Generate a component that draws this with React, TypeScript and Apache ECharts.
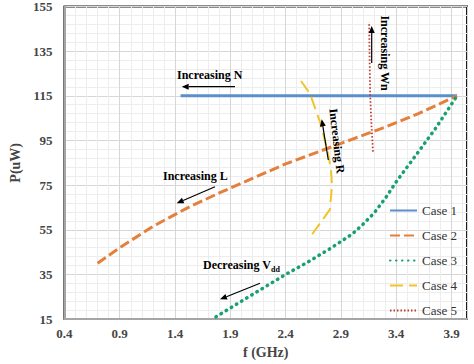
import React, { useEffect, useRef } from "react";
import * as echarts from "echarts";

const FONT = "Liberation Serif, Times New Roman, serif";

const seriesNames = ["Case 1", "Case 2", "Case 3", "Case 4", "Case 5"];

const case1X = [1.45, 3.95];
const case1Y = [115, 115];

const case2X = [0.7, 0.9, 1.2, 1.5, 1.8, 2.1, 2.4, 2.7, 3.0, 3.3, 3.6, 3.95];
const case2Y = [40, 47, 56.5, 64.5, 71.5, 78, 84.5, 90, 95.5, 101, 107, 115];

const case3X = [1.77, 2.0, 2.2, 2.4, 2.6, 2.8, 3.0, 3.1, 3.2, 3.3, 3.4, 3.55, 3.75, 3.95];
const case3Y = [16, 23, 29, 35, 40.5, 46.5, 53, 57.5, 62.5, 69, 76.5, 86.5, 100, 115];

const case4X = [2.64, 2.8, 2.82, 2.81, 2.78, 2.72, 2.62, 2.52];
const case4Y = [53, 64, 75, 82, 90, 102, 116, 123];

const case5X = [3.19, 3.175, 3.165, 3.16, 3.155];
const case5Y = [90, 103, 115, 130, 148];

const xTicks = { min: 0.4, max: 4.04, interval: 0.5 };
const yTicks = { min: 15, max: 155, interval: 20 };

const zip = (xs: number[], ys: number[]) => xs.map((x, i) => [x, ys[i]]);

function arrow(x1: number, y1: number, x2: number, y2: number) {
  const ang = Math.atan2(y2 - y1, x2 - x1);
  const len = 7;
  const w = 3;
  const bx = x2 - len * Math.cos(ang);
  const by = y2 - len * Math.sin(ang);
  const px = -Math.sin(ang) * w;
  const py = Math.cos(ang) * w;
  return [
    {
      type: "line",
      shape: { x1, y1, x2: bx, y2: by },
      style: { stroke: "#000", lineWidth: 1.2 },
      z: 100,
    },
    {
      type: "polygon",
      shape: { points: [[x2, y2], [bx + px, by + py], [bx - px, by - py]] },
      style: { fill: "#000" },
      z: 100,
    },
  ];
}

function label(text: string, x: number, y: number, extra: any = {}) {
  return {
    type: "text",
    x,
    y,
    z: 100,
    rotation: extra.rotation || 0,
    style: {
      text,
      fontFamily: FONT,
      fontWeight: "bold",
      fontSize: extra.size || 12,
      fill: "#000",
      align: extra.align || "left",
      verticalAlign: "middle",
    },
  };
}

export default function App() {
  const ref = useRef<HTMLDivElement>(null);
  useEffect(() => {
    if (!ref.current) return;
    const chart = echarts.init(ref.current, undefined, { renderer: "svg" });
    const axisLabel = { fontFamily: FONT, fontSize: 13, fontWeight: "bold", color: "#454545" };
    const option: any = {
      animation: false,
      textStyle: { fontFamily: FONT },
      grid: {
        left: 47,
        top: 6,
        right: 7,
        bottom: 43,
        show: true,
        borderColor: "#1a1a1a",
        borderWidth: 2,
      },
      legend: {
        orient: "vertical",
        left: 384,
        top: 199,
        itemWidth: 27,
        itemHeight: 14,
        itemGap: 12,
        itemStyle: { opacity: 0 },
        textStyle: { fontFamily: FONT, fontSize: 13, color: "#333" },
        data: seriesNames,
      },
      xAxis: {
        type: "value",
        min: xTicks.min,
        max: xTicks.max,
        interval: xTicks.interval,
        name: "f (GHz)",
        nameLocation: "middle",
        nameGap: 24,
        nameTextStyle: { fontFamily: FONT, fontSize: 14, fontWeight: "bold", color: "#454545", verticalAlign: "top" },
        axisLine: { show: true, lineStyle: { color: "#a6a6a6", width: 2 } },
        axisTick: { show: false },
        axisLabel: {
          ...axisLabel,
          margin: 8,
          formatter: (v: number) => (v > 3.95 ? "" : v.toFixed(1)),
        },
        splitLine: { show: true, lineStyle: { color: "#d6d6d6" } },
        minorTick: { show: false, splitNumber: 5 },
        minorSplitLine: { show: true, lineStyle: { color: "#ededed" } },
      },
      yAxis: {
        type: "value",
        min: yTicks.min,
        max: yTicks.max,
        interval: yTicks.interval,
        name: "P(uW)",
        nameLocation: "middle",
        nameGap: 34,
        nameTextStyle: { fontFamily: FONT, fontSize: 14, fontWeight: "bold", color: "#454545" },
        axisLine: { show: true, lineStyle: { color: "#a6a6a6", width: 2 } },
        axisTick: { show: false },
        axisLabel: { ...axisLabel, margin: 12 },
        splitLine: { show: true, lineStyle: { color: "#d6d6d6" } },
        minorTick: { show: false, splitNumber: 5 },
        minorSplitLine: { show: true, lineStyle: { color: "#ededed" } },
      },
      series: [
        {
          name: seriesNames[0],
          type: "line",
          symbol: "none",
          data: zip(case1X, case1Y),
          lineStyle: { color: "#5b8fc9", width: 3 },
          itemStyle: { color: "#5b8fc9" },
        },
        {
          name: seriesNames[1],
          type: "line",
          symbol: "none",
          data: zip(case2X, case2Y),
          lineStyle: { color: "#e57f3c", width: 3, type: [10, 4] },
          itemStyle: { color: "#e57f3c" },
        },
        {
          name: seriesNames[2],
          type: "line",
          symbol: "none",
          data: zip(case3X, case3Y),
          lineStyle: { color: "#18a070", width: 3.5, type: [0.5, 5.5], cap: "round" },
          itemStyle: { color: "#18a070" },
        },
        {
          name: seriesNames[3],
          type: "line",
          symbol: "none",
          data: zip(case4X, case4Y),
          lineStyle: { color: "#f2c42c", width: 2, type: [13, 6] },
          itemStyle: { color: "#f2c42c" },
        },
        {
          name: seriesNames[4],
          type: "line",
          symbol: "none",
          data: zip(case5X, case5Y),
          lineStyle: { color: "#c0392b", width: 1.8, type: [1.5, 2] },
          itemStyle: { color: "#c0392b" },
        },
      ],
      graphic: [
        label("Increasing N", 177, 75),
        ...arrow(235, 86.7, 181.7, 86.7),
        label("Increasing Wn", 385, 53, { rotation: -Math.PI / 2, align: "center" }),
        ...arrow(371.7, 63, 371.7, 26),
        label("Increasing R", 337, 141, { rotation: -1.456, align: "center" }),
        ...arrow(328.3, 160, 321.7, 119.3),
        label("Increasing L", 163, 176),
        ...arrow(215, 186.7, 176.7, 203.3),
        label("Decreasing V", 203, 265),
        label("dd", 271, 269, { size: 8 }),
        ...arrow(260, 283.3, 220, 299.3),
      ],
    };
    chart.setOption(option);
    return () => chart.dispose();
  }, []);
  return (
    <div
      ref={ref}
      style={{ position: "fixed", left: 0, top: 0, width: 474, height: 364, background: "#fff" }}
    />
  );
}
